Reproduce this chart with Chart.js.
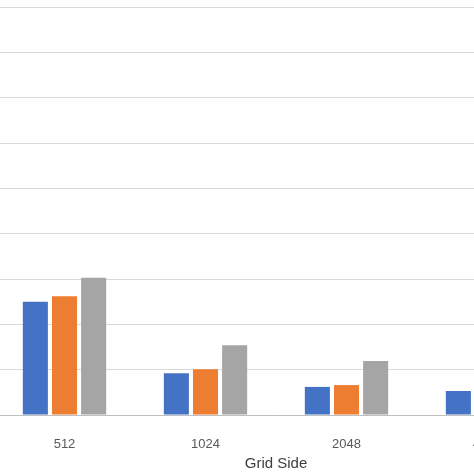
<!DOCTYPE html>
<html>
<head>
<meta charset="utf-8">
<script src="https://cdn.jsdelivr.net/npm/chart.js@4/dist/chart.umd.min.js"></script>
<style>
  html, body { margin: 0; padding: 0; background: #fff; }
  #wrap { position: relative; width: 474px; height: 474px; overflow: hidden; }
  #box { position: absolute; left: -6.5px; top: 7px; width: 564px; height: 480px; }
</style>
</head>
<body>
<div id="wrap"><div id="box"><canvas id="chart"></canvas></div></div>
<script>
const categories = ['512', '1024', '2048', '4096'];
const seriesA = [2.5, 0.92, 0.62, 0.53];
const seriesB = [2.62, 1.01, 0.66, 0.57];
const seriesC = [3.03, 1.54, 1.19, 1.1];

const ctx = document.getElementById('chart').getContext('2d');
new Chart(ctx, {
  type: 'bar',
  data: {
    labels: categories,
    datasets: [
      { label: 'A', data: seriesA, backgroundColor: '#4472C4' },
      { label: 'B', data: seriesB, backgroundColor: '#ED7D31' },
      { label: 'C', data: seriesC, backgroundColor: '#A5A5A5' },
    ],
  },
  options: {
    responsive: true,
    maintainAspectRatio: false,
    animation: false,
    layout: { padding: 0 },
    plugins: { legend: { display: false }, tooltip: { enabled: false } },
    datasets: { bar: { categoryPercentage: 0.62, barPercentage: 0.86 } },
    scales: {
      x: {
        grid: { display: false },
        border: { color: '#bfbfbf' },
        ticks: { color: '#595959', font: { family: 'Liberation Sans', size: 13 }, padding: 14 },
        title: { display: true, text: 'Grid Side', color: '#404040', font: { family: 'Liberation Sans', size: 15 }, padding: { top: 6, bottom: 14 } },
        afterFit: function (scale) { scale.height = 72; },
      },
      y: {
        min: 0,
        max: 9,
        ticks: { display: false, stepSize: 1 },
        grid: { color: '#d9d9d9', drawTicks: false },
        border: { display: false },
        afterFit: function (scale) { scale.width = 0; },
      },
    },
  },
});
</script>
</body>
</html>
